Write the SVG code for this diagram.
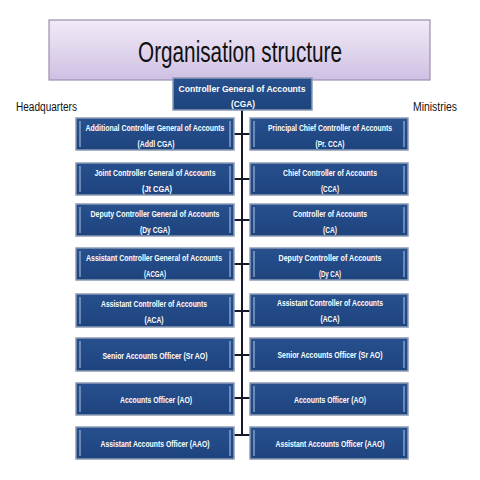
<svg xmlns="http://www.w3.org/2000/svg" width="480" height="480" viewBox="0 0 480 480">
<defs>
<linearGradient id="tg" x1="0" y1="0" x2="0" y2="1">
<stop offset="0" stop-color="#f1ebf7"/>
<stop offset="1" stop-color="#cfc0e4"/>
</linearGradient>
<linearGradient id="bg" x1="0" y1="0" x2="0" y2="1">
<stop offset="0" stop-color="#27508e"/>
<stop offset="1" stop-color="#1e447e"/>
</linearGradient>
</defs>
<style>
.box{fill:url(#bg);stroke:#8d9bb5;stroke-width:1.5}
.hl{stroke:#9db6dc;stroke-width:1.2}
.t{font-family:"Liberation Sans",Arial,sans-serif;font-weight:bold;font-size:9.5px;fill:#ffffff;text-anchor:middle}
.side{font-family:"Liberation Sans",Arial,sans-serif;font-size:12px;fill:#111111}
.conn{stroke:#15182a;stroke-width:2;fill:none}
</style>
<rect width="480" height="480" fill="#ffffff"/>
<g id="title">
<rect x="49" y="20" width="381" height="60" fill="url(#tg)" stroke="#9c90ae" stroke-width="1.2"/>
<text x="240" y="62" font-family="'Liberation Sans',Arial,sans-serif" font-size="29" fill="#111111" text-anchor="middle" textLength="204" lengthAdjust="spacingAndGlyphs">Organisation structure</text>
</g>
<g id="labels">
<text class="side" x="16" y="111" textLength="61" lengthAdjust="spacingAndGlyphs">Headquarters</text>
<text class="side" x="413" y="111" textLength="44" lengthAdjust="spacingAndGlyphs">Ministries</text>
</g>
<g id="connectors">
<line class="conn" x1="242" y1="110" x2="242" y2="436"/>
<line class="conn" x1="234" y1="134" x2="250" y2="134"/>
<line class="conn" x1="234" y1="179" x2="250" y2="179"/>
<line class="conn" x1="234" y1="220" x2="250" y2="220"/>
<line class="conn" x1="234" y1="264" x2="250" y2="264"/>
<line class="conn" x1="234" y1="311" x2="250" y2="311"/>
<line class="conn" x1="234" y1="355" x2="250" y2="355"/>
<line class="conn" x1="234" y1="398" x2="250" y2="398"/>
<line class="conn" x1="234" y1="435" x2="250" y2="435"/>
</g>
<g id="cga">
<rect class="box" x="173" y="78" width="139" height="32"/>
<text class="t" x="242" y="92" font-size="11.5" textLength="127" lengthAdjust="spacingAndGlyphs">Controller General of Accounts</text>
<text class="t" x="243" y="107" font-size="11.5" textLength="24" lengthAdjust="spacingAndGlyphs">(CGA)</text>
</g>
<g id="addl-cga">
<rect class="box" x="76" y="118" width="158" height="32"/>
<line class="hl" x1="80" y1="121" x2="80" y2="147"/><line class="hl" x1="230" y1="121" x2="230" y2="147"/>
<text class="t" x="155" y="131" textLength="139" lengthAdjust="spacingAndGlyphs">Additional Controller General of Accounts</text>
<text class="t" x="156" y="147" textLength="37" lengthAdjust="spacingAndGlyphs">(Addl CGA)</text>
</g>
<g id="pr-cca">
<rect class="box" x="250" y="118" width="158" height="32"/>
<line class="hl" x1="254" y1="121" x2="254" y2="147"/><line class="hl" x1="404" y1="121" x2="404" y2="147"/>
<text class="t" x="330" y="131" textLength="124" lengthAdjust="spacingAndGlyphs">Principal Chief Controller of Accounts</text>
<text class="t" x="330" y="147" textLength="29" lengthAdjust="spacingAndGlyphs">(Pr. CCA)</text>
</g>
<g id="jt-cga">
<rect class="box" x="76" y="163" width="158" height="32"/>
<line class="hl" x1="80" y1="166" x2="80" y2="192"/><line class="hl" x1="230" y1="166" x2="230" y2="192"/>
<text class="t" x="155" y="176" textLength="121" lengthAdjust="spacingAndGlyphs">Joint Controller General of Accounts</text>
<text class="t" x="157" y="192" textLength="30" lengthAdjust="spacingAndGlyphs">(Jt CGA)</text>
</g>
<g id="cca">
<rect class="box" x="250" y="163" width="158" height="32"/>
<line class="hl" x1="254" y1="166" x2="254" y2="192"/><line class="hl" x1="404" y1="166" x2="404" y2="192"/>
<text class="t" x="330" y="176" textLength="94" lengthAdjust="spacingAndGlyphs">Chief Controller of Accounts</text>
<text class="t" x="330" y="192" textLength="18" lengthAdjust="spacingAndGlyphs">(CCA)</text>
</g>
<g id="dy-cga">
<rect class="box" x="76" y="204" width="158" height="32"/>
<line class="hl" x1="80" y1="207" x2="80" y2="233"/><line class="hl" x1="230" y1="207" x2="230" y2="233"/>
<text class="t" x="155" y="217" textLength="129" lengthAdjust="spacingAndGlyphs">Deputy Controller General of Accounts</text>
<text class="t" x="155" y="233" textLength="30" lengthAdjust="spacingAndGlyphs">(Dy CGA)</text>
</g>
<g id="ca">
<rect class="box" x="250" y="204" width="158" height="32"/>
<line class="hl" x1="254" y1="207" x2="254" y2="233"/><line class="hl" x1="404" y1="207" x2="404" y2="233"/>
<text class="t" x="330" y="217" textLength="74" lengthAdjust="spacingAndGlyphs">Controller of Accounts</text>
<text class="t" x="330" y="233" textLength="14" lengthAdjust="spacingAndGlyphs">(CA)</text>
</g>
<g id="acga">
<rect class="box" x="76" y="248" width="158" height="32"/>
<line class="hl" x1="80" y1="251" x2="80" y2="277"/><line class="hl" x1="230" y1="251" x2="230" y2="277"/>
<text class="t" x="154" y="261" textLength="136" lengthAdjust="spacingAndGlyphs">Assistant Controller General of Accounts</text>
<text class="t" x="155" y="277" textLength="22" lengthAdjust="spacingAndGlyphs">(ACGA)</text>
</g>
<g id="dy-ca">
<rect class="box" x="250" y="248" width="158" height="32"/>
<line class="hl" x1="254" y1="251" x2="254" y2="277"/><line class="hl" x1="404" y1="251" x2="404" y2="277"/>
<text class="t" x="330" y="261" textLength="103" lengthAdjust="spacingAndGlyphs">Deputy Controller of Accounts</text>
<text class="t" x="330" y="277" textLength="22" lengthAdjust="spacingAndGlyphs">(Dy CA)</text>
</g>
<g id="aca-hq">
<rect class="box" x="76" y="294" width="158" height="33"/>
<line class="hl" x1="80" y1="297" x2="80" y2="324"/><line class="hl" x1="230" y1="297" x2="230" y2="324"/>
<text class="t" x="154" y="307" textLength="106" lengthAdjust="spacingAndGlyphs">Assistant Controller of Accounts</text>
<text class="t" x="154" y="323" textLength="19" lengthAdjust="spacingAndGlyphs">(ACA)</text>
</g>
<g id="aca-min">
<rect class="box" x="250" y="294" width="158" height="33"/>
<line class="hl" x1="254" y1="297" x2="254" y2="324"/><line class="hl" x1="404" y1="297" x2="404" y2="324"/>
<text class="t" x="330" y="306" textLength="106" lengthAdjust="spacingAndGlyphs">Assistant Controller of Accounts</text>
<text class="t" x="330" y="322" textLength="19" lengthAdjust="spacingAndGlyphs">(ACA)</text>
</g>
<g id="sr-ao-hq">
<rect class="box" x="76" y="338" width="158" height="33"/>
<line class="hl" x1="80" y1="341" x2="80" y2="368"/><line class="hl" x1="230" y1="341" x2="230" y2="368"/>
<text class="t" x="155" y="359" textLength="105" lengthAdjust="spacingAndGlyphs">Senior Accounts Officer (Sr AO)</text>
</g>
<g id="sr-ao-min">
<rect class="box" x="250" y="338" width="158" height="33"/>
<line class="hl" x1="254" y1="341" x2="254" y2="368"/><line class="hl" x1="404" y1="341" x2="404" y2="368"/>
<text class="t" x="330" y="358" textLength="105" lengthAdjust="spacingAndGlyphs">Senior Accounts Officer (Sr AO)</text>
</g>
<g id="ao-hq">
<rect class="box" x="76" y="383" width="158" height="32"/>
<line class="hl" x1="80" y1="386" x2="80" y2="412"/><line class="hl" x1="230" y1="386" x2="230" y2="412"/>
<text class="t" x="156" y="403" textLength="72" lengthAdjust="spacingAndGlyphs">Accounts Officer (AO)</text>
</g>
<g id="ao-min">
<rect class="box" x="250" y="383" width="158" height="32"/>
<line class="hl" x1="254" y1="386" x2="254" y2="412"/><line class="hl" x1="404" y1="386" x2="404" y2="412"/>
<text class="t" x="330" y="403" textLength="72" lengthAdjust="spacingAndGlyphs">Accounts Officer (AO)</text>
</g>
<g id="aao-hq">
<rect class="box" x="76" y="427" width="158" height="32"/>
<line class="hl" x1="80" y1="430" x2="80" y2="456"/><line class="hl" x1="230" y1="430" x2="230" y2="456"/>
<text class="t" x="155" y="447" textLength="109" lengthAdjust="spacingAndGlyphs">Assistant Accounts Officer (AAO)</text>
</g>
<g id="aao-min">
<rect class="box" x="250" y="427" width="158" height="32"/>
<line class="hl" x1="254" y1="430" x2="254" y2="456"/><line class="hl" x1="404" y1="430" x2="404" y2="456"/>
<text class="t" x="330" y="447" textLength="109" lengthAdjust="spacingAndGlyphs">Assistant Accounts Officer (AAO)</text>
</g>
</svg>
